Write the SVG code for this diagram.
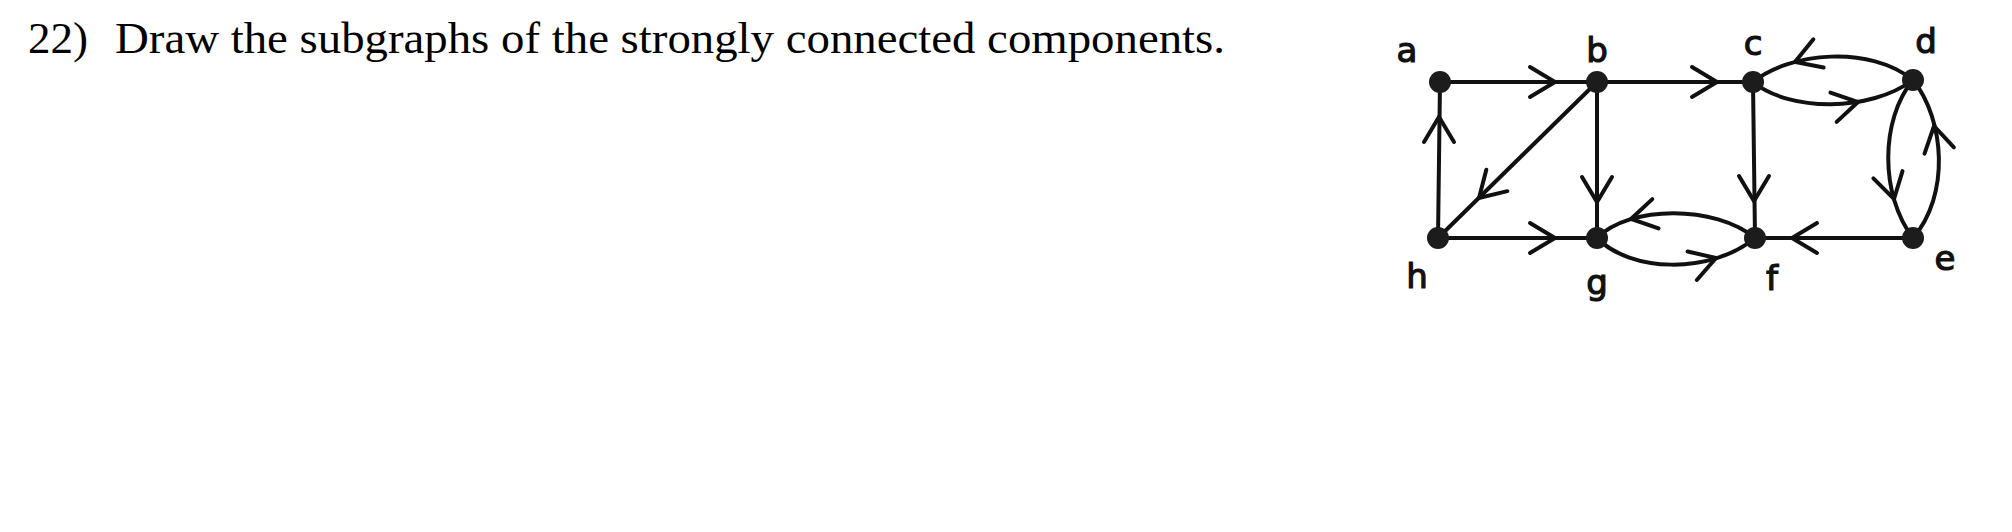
<svg xmlns="http://www.w3.org/2000/svg" xmlns:xlink="http://www.w3.org/1999/xlink" width="2012" height="532" viewBox="0 0 2012 532">
  <style>
    .title { font-family: "Liberation Serif", "DejaVu Serif", serif; font-size: 45px; fill: #000; }
    .edge { fill: none; stroke: #111; stroke-width: 4; stroke-linecap: round; }
    .chev { fill: none; stroke: #111; stroke-width: 4; stroke-linecap: round; stroke-linejoin: miter; }
    .dot { fill: #1c1c1c; }
    .lbl { font-family: "DejaVu Sans", "Liberation Sans", sans-serif; font-size: 34px; fill: #111; stroke: #111; stroke-width: 1.2; text-anchor: middle; }
  </style>
  <defs>
    <path id="chev" d="M-25,-15 L0,0 L-25,15"/>
  </defs>
  <rect x="0" y="0" width="2012" height="532" fill="#fff"/>

  <text class="title" x="28" y="53">22)</text>
  <text class="title" x="115" y="53" textLength="1110" lengthAdjust="spacingAndGlyphs">Draw the subgraphs of the strongly connected components.</text>

  <g id="connectors">
    <path class="edge" d="M1440,82 L1597,82"/>
    <path class="edge" d="M1597,82 L1753,82"/>
    <path class="edge" d="M1438,238 L1440,82"/>
    <path class="edge" d="M1597,82 L1438,238"/>
    <path class="edge" d="M1597,82 L1597,238"/>
    <path class="edge" d="M1438,238 L1597,238"/>
    <path class="edge" d="M1753,82 L1755,238"/>
    <path class="edge" d="M1913,238 L1755,238"/>
    <path class="edge" d="M1755,238 C1715,205 1630,205 1597,238"/>
    <path class="edge" d="M1597,238 C1630,272 1710,275 1755,238"/>
    <path class="edge" d="M1913,80 C1870,45 1790,52 1753,82"/>
    <path class="edge" d="M1753,82 C1790,112 1870,112 1913,80"/>
    <path class="edge" d="M1913,80 C1880,120 1880,195 1913,238"/>
    <path class="edge" d="M1913,238 C1950,195 1945,120 1913,80"/>

    <use xlink:href="#chev" class="chev" transform="translate(1555,82) rotate(0)"/>
    <use xlink:href="#chev" class="chev" transform="translate(1717,82) rotate(0)"/>
    <use xlink:href="#chev" class="chev" transform="translate(1439,117) rotate(-90)"/>
    <use xlink:href="#chev" class="chev" transform="translate(1479,198) rotate(135.5)"/>
    <use xlink:href="#chev" class="chev" transform="translate(1597,202) rotate(90)"/>
    <use xlink:href="#chev" class="chev" transform="translate(1555,238) rotate(0)"/>
    <use xlink:href="#chev" class="chev" transform="translate(1754,201) rotate(90)"/>
    <use xlink:href="#chev" class="chev" transform="translate(1792,238) rotate(180)"/>
    <use xlink:href="#chev" class="chev" transform="translate(1631,219) rotate(168)"/>
    <use xlink:href="#chev" class="chev" transform="translate(1716,258) rotate(-18)"/>
    <use xlink:href="#chev" class="chev" transform="translate(1795,62) rotate(160)"/>
    <use xlink:href="#chev" class="chev" transform="translate(1858,102) rotate(-12)"/>
    <use xlink:href="#chev" class="chev" transform="translate(1894,199) rotate(76)"/>
    <use xlink:href="#chev" class="chev" transform="translate(1934,126) rotate(-102)"/>
  </g>

  <g id="node-a"><circle class="dot" cx="1440" cy="82" r="11"/><text class="lbl" x="1407" y="62">a</text></g>
  <g id="node-b"><circle class="dot" cx="1597" cy="82" r="11"/><text class="lbl" x="1597" y="62">b</text></g>
  <g id="node-c"><circle class="dot" cx="1753" cy="82" r="11"/><text class="lbl" x="1753" y="55">c</text></g>
  <g id="node-d"><circle class="dot" cx="1913" cy="80" r="11"/><text class="lbl" x="1926" y="53">d</text></g>
  <g id="node-e"><circle class="dot" cx="1913" cy="238" r="11"/><text class="lbl" x="1945" y="270">e</text></g>
  <g id="node-f"><circle class="dot" cx="1755" cy="238" r="11"/><text class="lbl" x="1772" y="290">f</text></g>
  <g id="node-g"><circle class="dot" cx="1597" cy="238" r="11"/><text class="lbl" x="1597" y="294">g</text></g>
  <g id="node-h"><circle class="dot" cx="1438" cy="238" r="11"/><text class="lbl" x="1417" y="288">h</text></g>
</svg>
